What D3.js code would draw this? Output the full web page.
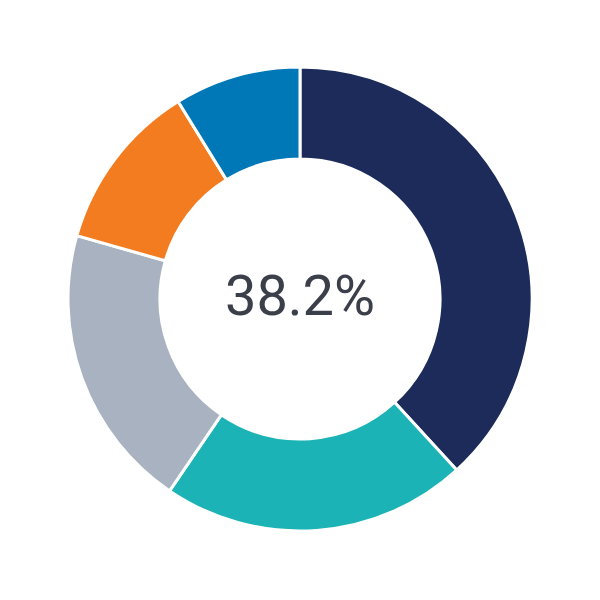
<!DOCTYPE html>
<html><head><meta charset="utf-8">
<script src="https://cdn.jsdelivr.net/npm/d3@7"></script>
<style>body{margin:0;background:#fff}</style>
</head><body>
<svg id="c" width="600" height="600"></svg>
<script>
const categories = ["A", "B", "C", "D", "E"];
const values = [38.2, 21.3, 19.9, 11.8, 8.8];
const colors = ["#1c2b5a", "#1bb3b5", "#a8b2c0", "#f47c20", "#0077b6"];
const centerLabel = "38.2%";

const svg = d3.select("#c");
const g = svg.append("g").attr("transform", "translate(300,299)");
const pie = d3.pie().sort(null).value(d => d.v);
const arc = d3.arc().innerRadius(140).outerRadius(232);
const data = categories.map((c, i) => ({c, v: values[i]}));
const color = d3.scaleOrdinal().domain(categories).range(colors);
g.selectAll("path").data(pie(data)).join("path")
  .attr("d", arc)
  .attr("fill", d => color(d.data.c))
  .attr("stroke", "#fff").attr("stroke-width", 3).attr("stroke-linejoin", "round");
g.append("text").text(centerLabel)
  .attr("text-anchor", "middle").attr("y", 16)
  .attr("font-family", "Roboto, 'Liberation Sans', sans-serif")
  .attr("font-size", 56).attr("fill", "#3a3f4a");
</script>
</body></html>
